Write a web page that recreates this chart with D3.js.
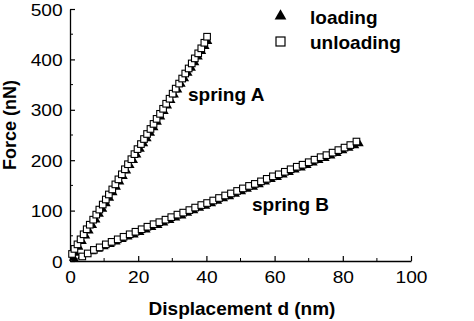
<!DOCTYPE html>
<html>
<head>
<meta charset="utf-8">
<script src="https://cdn.jsdelivr.net/npm/d3@7"></script>
<style>
  body { margin: 0; background: #fff; }
  text { font-family: "Liberation Sans", Arial, sans-serif; fill: #000; }
</style>
</head>
<body>
<svg id="chart" width="474" height="321"></svg>
<script>
// [displacement nm, force nN]
var loadingA = [[0.8,5],[1.8,15],[2.8,27],[3.8,38],[4.8,49],[5.8,59],[6.8,70],[7.8,81],[8.8,92],[9.8,102],
  [10.8,113],[11.8,124],[12.8,135],[13.8,146],[14.8,156],[15.8,167],[16.8,178],[17.8,189],[18.8,199],[19.8,210],
  [20.8,221],[21.8,232],[22.8,242],[23.8,253],[24.8,264],[25.8,275],[26.8,285],[27.8,296],[28.8,307],[29.8,318],
  [30.8,329],[31.8,339],[32.8,350],[33.8,361],[34.8,372],[35.8,382],[36.8,393],[37.8,404],[38.8,415],[39.8,425],
  [40.6,435]];
var unloadingA = [[0.6,14],[1.3,24],[2.2,33],[3.1,43],[4.0,53],[4.9,63],[5.8,72],[6.8,82],[7.7,92],[8.6,102],
  [9.6,112],[10.5,122],[11.4,132],[12.4,142],[13.3,152],[14.2,162],[15.2,172],[16.1,182],[17.0,192],[18.0,202],
  [18.9,212],[19.8,222],[20.8,232],[21.7,242],[22.6,252],[23.6,262],[24.5,272],[25.4,282],[26.4,292],[27.3,302],
  [28.2,312],[29.2,322],[30.1,332],[31.0,342],[32.0,352],[32.9,362],[33.8,372],[34.8,382],[35.7,392],[36.6,402],
  [37.6,412],[38.5,422],[39.4,433],[40.2,445]];
var loadingB = [[1.5,3],[3.2,8],[5.0,13],[6.7,18],[8.5,23],[10.2,28],[12.0,32],[13.7,37],[15.5,42],[17.2,47],
  [19.0,51],[20.7,56],[22.5,61],[24.2,66],[26.0,70],[27.7,75],[29.5,80],[31.2,85],[33.0,89],[34.7,94],
  [36.5,99],[38.2,104],[40.0,108],[41.7,113],[43.5,118],[45.2,123],[47.0,127],[48.7,132],[50.5,137],[52.2,142],
  [54.0,146],[55.7,151],[57.5,156],[59.2,161],[61.0,165],[62.7,170],[64.5,175],[66.2,180],[68.0,184],[69.7,189],
  [71.5,194],[73.2,199],[75.0,203],[76.7,208],[78.5,213],[80.2,218],[82.0,223],[83.7,228],[85.0,232]];
var unloadingB = [[3.6,9],[5.2,15],[7.0,22],[8.7,27],[10.5,33],[12.2,38],[14.0,43],[15.7,48],[17.5,53],[19.2,58],
  [21.0,63],[22.7,68],[24.5,73],[26.2,77],[28.0,82],[29.7,87],[31.5,92],[33.2,96],[35.0,101],[36.7,106],
  [38.5,111],[40.2,115],[42.0,120],[43.7,125],[45.5,130],[47.2,134],[49.0,139],[50.7,144],[52.5,149],[54.2,153],
  [56.0,158],[57.7,163],[59.5,168],[61.2,172],[63.0,177],[64.7,182],[66.5,187],[68.2,191],[70.0,196],[71.7,201],
  [73.5,206],[75.2,210],[77.0,215],[78.7,220],[80.5,225],[82.2,230],[84.0,237]];

var xTicks = [0, 20, 40, 60, 80, 100];
var yTicks = [0, 100, 200, 300, 400, 500];
var xMinor = [10, 30, 50, 70, 90];
var yMinor = [50, 150, 250, 350, 450];
var legendLabels = ["loading", "unloading"];
var springLabels = [["spring A", 188, 101], ["spring B", 252, 211]];

var svg = d3.select("#chart");
var x = d3.scaleLinear().domain([0, 100]).range([70, 411]);
var y = d3.scaleLinear().domain([0, 500]).range([261, 9]);

// axes, ticks pointing inward
var xAxis = svg.append("g").attr("transform", "translate(0," + y(0) + ")")
  .call(d3.axisBottom(x).tickValues(xTicks).tickSizeInner(-5).tickSizeOuter(0).tickPadding(9));
var yAxis = svg.append("g").attr("transform", "translate(" + x(0) + ",0)")
  .call(d3.axisLeft(y).tickValues(yTicks).tickSizeInner(-5).tickSizeOuter(0).tickPadding(9));
[xAxis, yAxis].forEach(function(a) {
  a.select(".domain").attr("stroke", "#000").attr("stroke-width", 1.3);
  a.selectAll(".tick line").attr("stroke", "#000").attr("stroke-width", 1.2);
  a.selectAll(".tick text").style("font-size", "17px").attr("fill", "#000");
});
// the reference digits are a little wider than Liberation Sans
xAxis.selectAll(".tick text").attr("dy", "0.75em").attr("transform", "scale(1.13,1)");
yAxis.selectAll(".tick text").attr("x", -6.5).attr("dy", "0.36em").attr("transform", "scale(1.13,1)");
svg.append("g").selectAll("line").data(xMinor).enter().append("line")
  .attr("x1", function(d) { return x(d); }).attr("x2", function(d) { return x(d); })
  .attr("y1", y(0)).attr("y2", y(0) - 3).attr("stroke", "#000");
svg.append("g").selectAll("line").data(yMinor).enter().append("line")
  .attr("y1", function(d) { return y(d); }).attr("y2", function(d) { return y(d); })
  .attr("x1", x(0)).attr("x2", x(0) + 3).attr("stroke", "#000");

svg.append("text").attr("x", 242).attr("y", 315).attr("text-anchor", "middle")
  .style("font-size", "19px").style("font-weight", "bold").text("Displacement d (nm)");
svg.append("text").attr("transform", "translate(16,125) rotate(-90)").attr("text-anchor", "middle")
  .style("font-size", "18px").style("font-weight", "bold").text("Force (nN)");

var tri = d3.symbol().type(d3.symbolTriangle).size(26);
var triLegend = d3.symbol().type(d3.symbolTriangle).size(60);

function drawTriangles(data) {
  svg.append("g").selectAll("path").data(data).enter().append("path")
    .attr("d", tri)
    .attr("transform", function(d) { return "translate(" + x(d[0]) + "," + y(d[1]) + ")"; })
    .attr("fill", "#000");
}
function drawSquares(data) {
  svg.append("g").selectAll("rect").data(data).enter().append("rect")
    .attr("x", function(d) { return x(d[0]) - 3.3; })
    .attr("y", function(d) { return y(d[1]) - 3.3; })
    .attr("width", 6.6).attr("height", 6.6)
    .attr("fill", "#fff").attr("stroke", "#000").attr("stroke-width", 1.1);
}
drawTriangles(loadingA);
drawTriangles(loadingB);
drawSquares(unloadingA);
drawSquares(unloadingB);

// legend
svg.append("path").attr("d", triLegend).attr("transform", "translate(280.5,16)").attr("fill", "#000");
svg.append("rect").attr("x", 276).attr("y", 37).attr("width", 9).attr("height", 9)
  .attr("fill", "#fff").attr("stroke", "#000").attr("stroke-width", 1.2);
svg.append("g").selectAll("text").data(legendLabels).enter().append("text")
  .attr("x", 310).attr("y", function(d, i) { return 24 + i * 25; })
  .style("font-size", "19px").style("font-weight", "bold").text(function(d) { return d; });

svg.append("g").selectAll("text").data(springLabels).enter().append("text")
  .attr("x", function(d) { return d[1]; }).attr("y", function(d) { return d[2]; })
  .style("font-size", "19px").style("font-weight", "bold").text(function(d) { return d[0]; });
</script>
</body>
</html>
